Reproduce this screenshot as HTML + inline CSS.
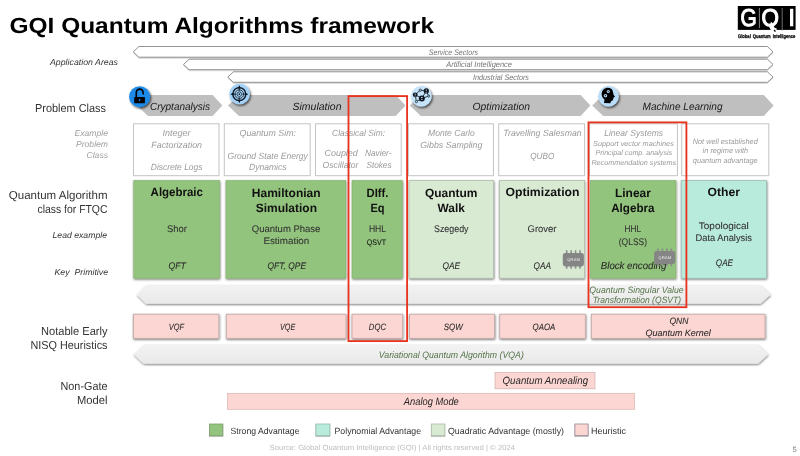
<!DOCTYPE html>
<html><head><meta charset="utf-8"><title>GQI Quantum Algorithms framework</title>
<style>
html,body{margin:0;padding:0;background:#fff;}
body{width:800px;height:456px;overflow:hidden;font-family:"Liberation Sans",sans-serif;}
svg{display:block;font-family:"Liberation Sans",sans-serif;will-change:transform;-webkit-font-smoothing:antialiased;text-rendering:geometricPrecision;filter:blur(0.35px);}
</style></head><body>
<svg width="800" height="456" viewBox="0 0 800 456">
<defs>
<filter id="sh" x="-5%" y="-20%" width="110%" height="150%"><feDropShadow dx="0.4" dy="1" stdDeviation="0.8" flood-color="#000" flood-opacity="0.55"/></filter>
<filter id="sh2" x="-5%" y="-20%" width="110%" height="150%"><feDropShadow dx="0" dy="0.8" stdDeviation="0.6" flood-color="#000" flood-opacity="0.4"/></filter>
<filter id="sh3" x="-5%" y="-30%" width="110%" height="170%"><feDropShadow dx="0" dy="0.5" stdDeviation="0.45" flood-color="#000" flood-opacity="0.3"/></filter>
<filter id="shc" x="-30%" y="-30%" width="170%" height="170%"><feDropShadow dx="1.1" dy="1.4" stdDeviation="1.1" flood-color="#000" flood-opacity="0.7"/></filter>
<linearGradient id="gq" x1="0" y1="0" x2="0" y2="1"><stop offset="0" stop-color="#f2f2f2"/><stop offset="1" stop-color="#e9e9e9"/></linearGradient>
</defs>
<rect x="0" y="0" width="800" height="456" fill="#fff"/>

<text x="9.5" y="33.30" font-size="22" text-anchor="start" font-weight="bold" font-style="normal" fill="#000" textLength="424.5" lengthAdjust="spacingAndGlyphs">GQI Quantum Algorithms framework</text>
<rect x="737.8" y="6" width="57.80000000000007" height="23.9" fill="#000"/>
<text x="740.5" y="26.30" font-size="24.4" text-anchor="start" font-weight="normal" font-style="normal" fill="#fff" textLength="16.2" lengthAdjust="spacingAndGlyphs" stroke="#fff" stroke-width="1.1">G</text>
<text x="761.6" y="26.30" font-size="24.4" text-anchor="start" font-weight="normal" font-style="normal" fill="#fff" textLength="17.5" lengthAdjust="spacingAndGlyphs" stroke="#fff" stroke-width="1.1">Q</text>
<rect x="790" y="8.8" width="3.2999999999999545" height="17.5" fill="#fff"/>
<line x1="759.4" y1="8" x2="759.4" y2="28" stroke="#bbb" stroke-width="0.7"/>
<line x1="782.2" y1="8" x2="782.2" y2="31" stroke="#999" stroke-width="0.7"/>
<line x1="771" y1="22.5" x2="774.4" y2="29.6" stroke="#fff" stroke-width="2"/>
<line x1="774.2" y1="29.9" x2="775.4" y2="31.6" stroke="#111" stroke-width="1.5"/>
<text x="738" y="38.00" font-size="5.2" text-anchor="start" font-weight="bold" font-style="normal" fill="#000" textLength="57.3" lengthAdjust="spacingAndGlyphs" stroke="#000" stroke-width="0.25" word-spacing="1">Global Quantum Intelligence</text>
<polygon points="133.3,51.85 138.9,46.5 767.4,46.5 773,51.85 767.4,57.2 138.9,57.2" fill="#fff" stroke="#939393" stroke-width="1" filter="url(#sh3)"/>
<polygon points="183.5,64.45 189.1,59.2 767.4,59.2 773,64.45 767.4,69.7 189.1,69.7" fill="#fff" stroke="#939393" stroke-width="1" filter="url(#sh3)"/>
<polygon points="227.8,77.05 233.4,71.8 767.4,71.8 773,77.05 767.4,82.3 233.4,82.3" fill="#fff" stroke="#939393" stroke-width="1" filter="url(#sh3)"/>
<text x="428.8" y="55.06" font-size="8" text-anchor="start" font-weight="normal" font-style="italic" fill="#777" textLength="49.2" lengthAdjust="spacingAndGlyphs">Service Sectors</text>
<text x="446.2" y="67.46" font-size="8" text-anchor="start" font-weight="normal" font-style="italic" fill="#777" textLength="65.8" lengthAdjust="spacingAndGlyphs">Artificial Intelligence</text>
<text x="473" y="80.06" font-size="8" text-anchor="start" font-weight="normal" font-style="italic" fill="#777" textLength="56" lengthAdjust="spacingAndGlyphs">Industrial Sectors</text>
<text x="118" y="65.47" font-size="8.6" text-anchor="end" font-weight="normal" font-style="italic" fill="#333" textLength="68" lengthAdjust="spacingAndGlyphs">Application Areas</text>
<polygon points="137,105.45 148,95.0 212.6,95.0 222.4,105.45 212.6,115.9 148,115.9" fill="#bfbfbf"/>
<polygon points="228,105.45 239,95.0 395.7,95.0 405.5,105.45 395.7,115.9 239,115.9" fill="#bfbfbf"/>
<polygon points="409.8,105.45 420.8,95.0 580.6,95.0 590.4,105.45 580.6,115.9 420.8,115.9" fill="#bfbfbf"/>
<polygon points="592.2,105.45 603.2,95.0 763.8000000000001,95.0 773.6,105.45 763.8000000000001,115.9 603.2,115.9" fill="#bfbfbf"/>
<text x="180" y="109.62" font-size="10.5" text-anchor="middle" font-weight="normal" font-style="italic" fill="#1a1a1a" textLength="60" lengthAdjust="spacingAndGlyphs">Cryptanalysis</text>
<text x="317" y="109.62" font-size="10.5" text-anchor="middle" font-weight="normal" font-style="italic" fill="#1a1a1a" textLength="49" lengthAdjust="spacingAndGlyphs">Simulation</text>
<text x="501.3" y="109.62" font-size="10.5" text-anchor="middle" font-weight="normal" font-style="italic" fill="#1a1a1a" textLength="57.5" lengthAdjust="spacingAndGlyphs">Optimization</text>
<text x="682.5" y="109.62" font-size="10.5" text-anchor="middle" font-weight="normal" font-style="italic" fill="#1a1a1a" textLength="80" lengthAdjust="spacingAndGlyphs">Machine Learning</text>
<text x="106" y="111.50" font-size="11.6" text-anchor="end" font-weight="normal" font-style="normal" fill="#333" textLength="71" lengthAdjust="spacingAndGlyphs">Problem Class</text>
<circle cx="139.6" cy="96.7" r="10.5" fill="#1f8ae6" filter="url(#shc)"/>
<circle cx="239.55" cy="94.05" r="10.3" fill="#a3d2f6" filter="url(#shc)"/>
<circle cx="421.35" cy="96.3" r="10.3" fill="#c5e3f9" filter="url(#shc)"/>
<circle cx="608.5" cy="96.3" r="10.3" fill="#b9dcf8" filter="url(#shc)"/>
<g><rect x="134.2" y="97" width="10.7" height="6.3" rx="0.6" fill="#000"/><path d="M136.3 97.2 V92.5 A3.4 3.4 0 0 1 143.1 92.5 V94.4" fill="none" stroke="#000" stroke-width="1.6"/><path d="M139.6 98.9 a0.9 0.9 0 0 1 0.9 0.9 l-0.9 1.6 l-0.9 -1.6 a0.9 0.9 0 0 1 0.9 -0.9z" fill="#1f8ae6"/></g>
<g fill="none" stroke="#0d1520" transform="translate(239.3 94.15)"><circle r="6.5" stroke-width="1.3"/><circle r="4.3" stroke-width="0.8"/><circle r="2.3" stroke-width="0.7"/><circle r="0.8" fill="#0d1520" stroke="none"/><path d="M0 -8.4V-3M0 3V8.4M-8.4 0H-3M3 0H8.4" stroke-width="0.8"/><path d="M0 -8.6L1.5 -5.6H-1.5ZM0 8.6L1.5 5.6H-1.5ZM-8.6 0L-5.6 1.5V-1.5ZM8.6 0L5.6 1.5V-1.5Z" fill="#0d1520" stroke="none"/></g>
<g transform="translate(0 0)"><g stroke="#0d1520" stroke-width="0.8" fill="none"><path d="M415.2 94.8L420.3 90.2L426.3 90.9L428.7 96.1L421.8 98.4L416.4 101.6L415.2 94.8L421.8 98.4L426.3 90.9"/></g><g fill="#0d1520"><circle cx="415.2" cy="94.8" r="2.4"/><circle cx="426.3" cy="90.9" r="2.6"/><circle cx="421.8" cy="98.4" r="3"/></g><g fill="#c5e3f9" stroke="#0d1520" stroke-width="0.7"><circle cx="420.3" cy="90.2" r="1.1"/><circle cx="428.7" cy="96.1" r="1.1"/><circle cx="416.4" cy="101.6" r="1.1"/></g><g fill="#dbeefb"><circle cx="415.2" cy="94.2" r="0.6"/><circle cx="426.3" cy="90.2" r="0.65"/><circle cx="421.8" cy="97.6" r="0.75"/><path d="M414.3 96.2q0.9 -1.3 1.8 0zM425.3 92.4q1 -1.4 2 0zM420.6 100q1.2 -1.6 2.4 0z"/></g></g>
<g><path d="M604.05 103 L604.5 99.4 C602.5 98 601.3 95.8 601.7 93.2 C602.2 89.8 605 87.7 608.2 87.8 C611 87.9 612.9 89.8 613 92.3 L613.5 94.5 L615 96.8 L613.6 97.5 L613.5 98.6 L613 99 L613 100.3 L611.2 100.9 L610.3 103.2 Z" fill="#000"/><circle cx="608.3" cy="91.5" r="1.55" fill="#b5d6ee"/><circle cx="605.5" cy="95.7" r="1.75" fill="#b5d6ee"/><circle cx="608.3" cy="91.5" r="0.6" fill="#123"/><circle cx="605.5" cy="95.7" r="0.65" fill="#123"/></g>
<rect x="133.5" y="123.8" width="85.5" height="51.89999999999999" fill="#fff" stroke="#c4c4c4" stroke-width="1"/>
<rect x="224.3" y="123.8" width="85.89999999999998" height="51.89999999999999" fill="#fff" stroke="#c4c4c4" stroke-width="1"/>
<rect x="315.5" y="123.8" width="85.69999999999999" height="51.89999999999999" fill="#fff" stroke="#c4c4c4" stroke-width="1"/>
<rect x="408.3" y="123.8" width="85.09999999999997" height="51.89999999999999" fill="#fff" stroke="#c4c4c4" stroke-width="1"/>
<rect x="498.7" y="123.8" width="85.90000000000003" height="51.89999999999999" fill="#fff" stroke="#c4c4c4" stroke-width="1"/>
<rect x="589.5" y="123.8" width="87.89999999999998" height="51.89999999999999" fill="#fff" stroke="#c4c4c4" stroke-width="1"/>
<rect x="681.7" y="123.8" width="87.09999999999991" height="51.89999999999999" fill="#fff" stroke="#c4c4c4" stroke-width="1"/>
<text x="162.5" y="136.10" font-size="9" text-anchor="start" font-weight="normal" font-style="italic" fill="#9a9a9a" textLength="28.0" lengthAdjust="spacingAndGlyphs">Integer</text>
<text x="151.3" y="147.60" font-size="9" text-anchor="start" font-weight="normal" font-style="italic" fill="#9a9a9a" textLength="50.7" lengthAdjust="spacingAndGlyphs">Factorization</text>
<text x="150.8" y="170.10" font-size="9" text-anchor="start" font-weight="normal" font-style="italic" fill="#9a9a9a" textLength="51.7" lengthAdjust="spacingAndGlyphs">Discrete Logs</text>
<text x="239.5" y="136.10" font-size="9" text-anchor="start" font-weight="normal" font-style="italic" fill="#9a9a9a" textLength="56.5" lengthAdjust="spacingAndGlyphs">Quantum Sim:</text>
<text x="227.6" y="159.20" font-size="9" text-anchor="start" font-weight="normal" font-style="italic" fill="#9a9a9a" textLength="80.3" lengthAdjust="spacingAndGlyphs">Ground State Energy</text>
<text x="249" y="170.10" font-size="9" text-anchor="start" font-weight="normal" font-style="italic" fill="#9a9a9a" textLength="37.5" lengthAdjust="spacingAndGlyphs">Dynamics</text>
<text x="332.1" y="136.10" font-size="9" text-anchor="start" font-weight="normal" font-style="italic" fill="#9a9a9a" textLength="52.9" lengthAdjust="spacingAndGlyphs">Classical Sim:</text>
<text x="324.5" y="156.41" font-size="9" text-anchor="start" font-weight="normal" font-style="italic" fill="#9a9a9a" textLength="33.3" lengthAdjust="spacingAndGlyphs">Coupled</text>
<text x="322.6" y="167.80" font-size="9" text-anchor="start" font-weight="normal" font-style="italic" fill="#9a9a9a" textLength="35.9" lengthAdjust="spacingAndGlyphs">Oscillator</text>
<text x="364.9" y="156.41" font-size="9" text-anchor="start" font-weight="normal" font-style="italic" fill="#9a9a9a" textLength="26.6" lengthAdjust="spacingAndGlyphs">Navier-</text>
<text x="366.5" y="167.80" font-size="9" text-anchor="start" font-weight="normal" font-style="italic" fill="#9a9a9a" textLength="25.0" lengthAdjust="spacingAndGlyphs">Stokes</text>
<text x="428" y="136.10" font-size="9" text-anchor="start" font-weight="normal" font-style="italic" fill="#9a9a9a" textLength="46.8" lengthAdjust="spacingAndGlyphs">Monte Carlo</text>
<text x="420.2" y="147.60" font-size="9" text-anchor="start" font-weight="normal" font-style="italic" fill="#9a9a9a" textLength="62.2" lengthAdjust="spacingAndGlyphs">Gibbs Sampling</text>
<text x="503.3" y="136.10" font-size="9" text-anchor="start" font-weight="normal" font-style="italic" fill="#9a9a9a" textLength="78.4" lengthAdjust="spacingAndGlyphs">Travelling Salesman</text>
<text x="530.2" y="159.20" font-size="9" text-anchor="start" font-weight="normal" font-style="italic" fill="#9a9a9a" textLength="24.2" lengthAdjust="spacingAndGlyphs">QUBO</text>
<text x="604.2" y="136.10" font-size="9" text-anchor="start" font-weight="normal" font-style="italic" fill="#9a9a9a" textLength="58.9" lengthAdjust="spacingAndGlyphs">Linear Systems</text>
<text x="593.1" y="146.23" font-size="7.2" text-anchor="start" font-weight="normal" font-style="italic" fill="#9a9a9a" textLength="80.7" lengthAdjust="spacingAndGlyphs">Support vector machines</text>
<text x="595.4" y="155.38" font-size="7.2" text-anchor="start" font-weight="normal" font-style="italic" fill="#9a9a9a" textLength="76.8" lengthAdjust="spacingAndGlyphs">Principal comp. analysis</text>
<text x="591.4" y="165.18" font-size="7.2" text-anchor="start" font-weight="normal" font-style="italic" fill="#9a9a9a" textLength="84.8" lengthAdjust="spacingAndGlyphs">Recommendation systems</text>
<text x="692.8" y="144.22" font-size="7.6" text-anchor="start" font-weight="normal" font-style="italic" fill="#9a9a9a" textLength="64.9" lengthAdjust="spacingAndGlyphs">Not well established</text>
<text x="702.6" y="153.42" font-size="7.6" text-anchor="start" font-weight="normal" font-style="italic" fill="#9a9a9a" textLength="45.6" lengthAdjust="spacingAndGlyphs">in regime with</text>
<text x="692.8" y="162.82" font-size="7.6" text-anchor="start" font-weight="normal" font-style="italic" fill="#9a9a9a" textLength="64.9" lengthAdjust="spacingAndGlyphs">quantum advantage</text>
<text x="108" y="136.17" font-size="8.6" text-anchor="end" font-weight="normal" font-style="italic" fill="#a0a0a0">Example</text>
<text x="108" y="147.47" font-size="8.6" text-anchor="end" font-weight="normal" font-style="italic" fill="#a0a0a0">Problem</text>
<text x="108" y="158.47" font-size="8.6" text-anchor="end" font-weight="normal" font-style="italic" fill="#a0a0a0">Class</text>
<rect x="133.8" y="180.6" width="85.69999999999999" height="97.6" fill="#93c47d" stroke="#86b272" stroke-width="0.7" filter="url(#sh)"/>
<rect x="226" y="180.6" width="119.80000000000001" height="97.6" fill="#93c47d" stroke="#86b272" stroke-width="0.7" filter="url(#sh)"/>
<rect x="352.1" y="180.6" width="50.099999999999966" height="97.6" fill="#93c47d" stroke="#86b272" stroke-width="0.7" filter="url(#sh)"/>
<rect x="409" y="180.6" width="84.60000000000002" height="97.6" fill="#d9ead3" stroke="#a9b6a5" stroke-width="0.7" filter="url(#sh)"/>
<rect x="499.5" y="180.6" width="85.20000000000005" height="97.6" fill="#d9ead3" stroke="#a9b6a5" stroke-width="0.7" filter="url(#sh)"/>
<rect x="590.4" y="180.6" width="85.5" height="97.6" fill="#93c47d" stroke="#86b272" stroke-width="0.7" filter="url(#sh)"/>
<rect x="681.2" y="180.6" width="85.39999999999998" height="97.6" fill="#b9ebdc" stroke="#93b9ae" stroke-width="0.7" filter="url(#sh)"/>
<text x="150.6" y="196.14" font-size="12" text-anchor="start" font-weight="bold" font-style="normal" fill="#111" textLength="52.3" lengthAdjust="spacingAndGlyphs">Algebraic</text>
<text x="167.1" y="231.51" font-size="9.6" text-anchor="start" font-weight="normal" font-style="normal" fill="#333" textLength="19.8" lengthAdjust="spacingAndGlyphs" stroke="#333" stroke-width="0.08">Shor</text>
<text x="168.5" y="269.01" font-size="9.6" text-anchor="start" font-weight="normal" font-style="italic" fill="#2a2a2a" textLength="17.3" lengthAdjust="spacingAndGlyphs" stroke="#2a2a2a" stroke-width="0.08">QFT</text>
<text x="251.8" y="196.64" font-size="12" text-anchor="start" font-weight="bold" font-style="normal" fill="#111" textLength="68.8" lengthAdjust="spacingAndGlyphs">Hamiltonian</text>
<text x="255.7" y="211.64" font-size="12" text-anchor="start" font-weight="bold" font-style="normal" fill="#111" textLength="61.3" lengthAdjust="spacingAndGlyphs">Simulation</text>
<text x="251.8" y="231.51" font-size="9.6" text-anchor="start" font-weight="normal" font-style="normal" fill="#333" textLength="68.5" lengthAdjust="spacingAndGlyphs" stroke="#333" stroke-width="0.08">Quantum Phase</text>
<text x="263.4" y="243.61" font-size="9.6" text-anchor="start" font-weight="normal" font-style="normal" fill="#333" textLength="45.9" lengthAdjust="spacingAndGlyphs" stroke="#333" stroke-width="0.08">Estimation</text>
<text x="267.5" y="269.01" font-size="9.6" text-anchor="start" font-weight="normal" font-style="italic" fill="#2a2a2a" textLength="38.5" lengthAdjust="spacingAndGlyphs" stroke="#2a2a2a" stroke-width="0.08">QFT, QPE</text>
<text x="366.5" y="196.64" font-size="12" text-anchor="start" font-weight="bold" font-style="normal" fill="#111" textLength="21.9" lengthAdjust="spacingAndGlyphs">DIff.</text>
<text x="370.4" y="211.64" font-size="12" text-anchor="start" font-weight="bold" font-style="normal" fill="#111" textLength="14.1" lengthAdjust="spacingAndGlyphs">Eq</text>
<text x="368.9" y="231.51" font-size="9.6" text-anchor="start" font-weight="normal" font-style="normal" fill="#333" textLength="17.1" lengthAdjust="spacingAndGlyphs" stroke="#333" stroke-width="0.08">HHL</text>
<text x="366.8" y="245.06" font-size="8" text-anchor="start" font-weight="normal" font-style="normal" fill="#111" textLength="19.2" lengthAdjust="spacingAndGlyphs" stroke="#111" stroke-width="0.08">QSVT</text>
<text x="425" y="196.64" font-size="12" text-anchor="start" font-weight="bold" font-style="normal" fill="#111" textLength="52.5" lengthAdjust="spacingAndGlyphs">Quantum</text>
<text x="437.6" y="211.64" font-size="12" text-anchor="start" font-weight="bold" font-style="normal" fill="#111" textLength="27.3" lengthAdjust="spacingAndGlyphs">Walk</text>
<text x="434" y="232.01" font-size="9.6" text-anchor="start" font-weight="normal" font-style="normal" fill="#333" textLength="34.5" lengthAdjust="spacingAndGlyphs" stroke="#333" stroke-width="0.08">Szegedy</text>
<text x="442.4" y="269.31" font-size="9.6" text-anchor="start" font-weight="normal" font-style="italic" fill="#2a2a2a" textLength="17.7" lengthAdjust="spacingAndGlyphs" stroke="#2a2a2a" stroke-width="0.08">QAE</text>
<text x="505.4" y="196.14" font-size="12" text-anchor="start" font-weight="bold" font-style="normal" fill="#111" textLength="74.1" lengthAdjust="spacingAndGlyphs">Optimization</text>
<text x="527.6" y="232.01" font-size="9.6" text-anchor="start" font-weight="normal" font-style="normal" fill="#333" textLength="28.8" lengthAdjust="spacingAndGlyphs" stroke="#333" stroke-width="0.08">Grover</text>
<text x="533.6" y="269.11" font-size="9.6" text-anchor="start" font-weight="normal" font-style="italic" fill="#2a2a2a" textLength="17.4" lengthAdjust="spacingAndGlyphs" stroke="#2a2a2a" stroke-width="0.08">QAA</text>
<text x="615" y="196.64" font-size="12" text-anchor="start" font-weight="bold" font-style="normal" fill="#111" textLength="35.8" lengthAdjust="spacingAndGlyphs">Linear</text>
<text x="611.2" y="211.64" font-size="12" text-anchor="start" font-weight="bold" font-style="normal" fill="#111" textLength="43.3" lengthAdjust="spacingAndGlyphs">Algebra</text>
<text x="624.5" y="231.61" font-size="9.6" text-anchor="start" font-weight="normal" font-style="normal" fill="#333" textLength="16.8" lengthAdjust="spacingAndGlyphs" stroke="#333" stroke-width="0.08">HHL</text>
<text x="618.8" y="244.51" font-size="9.6" text-anchor="start" font-weight="normal" font-style="normal" fill="#333" textLength="28.2" lengthAdjust="spacingAndGlyphs" stroke="#333" stroke-width="0.08">(QLSS)</text>
<text x="600.8" y="269.02" font-size="10.2" text-anchor="start" font-weight="normal" font-style="italic" fill="#2a2a2a" textLength="65.5" lengthAdjust="spacingAndGlyphs" stroke="#2a2a2a" stroke-width="0.08">Block encoding</text>
<text x="707.5" y="196.14" font-size="12" text-anchor="start" font-weight="bold" font-style="normal" fill="#111" textLength="32.5" lengthAdjust="spacingAndGlyphs">Other</text>
<text x="698.8" y="229.01" font-size="9.6" text-anchor="start" font-weight="normal" font-style="normal" fill="#333" textLength="50.0" lengthAdjust="spacingAndGlyphs" stroke="#333" stroke-width="0.08">Topological</text>
<text x="695.5" y="241.31" font-size="9.6" text-anchor="start" font-weight="normal" font-style="normal" fill="#333" textLength="56.5" lengthAdjust="spacingAndGlyphs" stroke="#333" stroke-width="0.08">Data Analysis</text>
<text x="715.8" y="265.91" font-size="9.6" text-anchor="start" font-weight="normal" font-style="italic" fill="#2a2a2a" textLength="17.2" lengthAdjust="spacingAndGlyphs" stroke="#2a2a2a" stroke-width="0.08">QAE</text>
<text x="107.5" y="199.00" font-size="11.6" text-anchor="end" font-weight="normal" font-style="normal" fill="#333" textLength="98.7" lengthAdjust="spacingAndGlyphs">Quantum Algorithm</text>
<text x="107.5" y="213.00" font-size="11.6" text-anchor="end" font-weight="normal" font-style="normal" fill="#333" textLength="70" lengthAdjust="spacingAndGlyphs">class for FTQC</text>
<text x="107" y="238.47" font-size="8.6" text-anchor="end" font-weight="normal" font-style="italic" fill="#333" textLength="54.5" lengthAdjust="spacingAndGlyphs">Lead example</text>
<text x="108" y="274.97" font-size="8.6" text-anchor="end" font-weight="normal" font-style="italic" fill="#333" textLength="53.5" lengthAdjust="spacingAndGlyphs" xml:space="preserve">Key  Primitive</text>
<rect x="565.90" y="250.30" width="1.6" height="18.40" fill="#8c8c8c"/>
<rect x="570.33" y="250.30" width="1.6" height="18.40" fill="#8c8c8c"/>
<rect x="574.77" y="250.30" width="1.6" height="18.40" fill="#8c8c8c"/>
<rect x="579.20" y="250.30" width="1.6" height="18.40" fill="#8c8c8c"/>
<rect x="562.8" y="252.9" width="21.100000000000023" height="13.50" rx="2.4" fill="#858585"/>
<text x="567.0" y="261.05" font-size="3.9" text-anchor="start" font-weight="bold" font-style="normal" fill="#d4d4d4" textLength="13.0" lengthAdjust="spacingAndGlyphs">QRAM</text>
<rect x="657.22" y="248.40" width="1.6" height="17.90" fill="#8c8c8c"/>
<rect x="661.67" y="248.40" width="1.6" height="17.90" fill="#8c8c8c"/>
<rect x="666.13" y="248.40" width="1.6" height="17.90" fill="#8c8c8c"/>
<rect x="670.58" y="248.40" width="1.6" height="17.90" fill="#8c8c8c"/>
<rect x="654.1" y="251.0" width="21.199999999999932" height="13.00" rx="2.4" fill="#858585"/>
<text x="658.3000000000001" y="258.90" font-size="3.9" text-anchor="start" font-weight="bold" font-style="normal" fill="#d4d4d4" textLength="13.1" lengthAdjust="spacingAndGlyphs">QRAM</text>
<polygon points="137,294.65 146,285.5 760.5,285.5 770.5,294.65 760.5,303.8 146,303.8" fill="url(#gq)" filter="url(#sh)"/>
<text x="589.3" y="292.67" font-size="9.2" text-anchor="start" font-weight="normal" font-style="italic" fill="#56744a" textLength="94.4" lengthAdjust="spacingAndGlyphs">Quantum Singular Value</text>
<text x="592.7" y="302.67" font-size="9.2" text-anchor="start" font-weight="normal" font-style="italic" fill="#56744a" textLength="88.5" lengthAdjust="spacingAndGlyphs">Transformation (QSVT)</text>
<rect x="133.5" y="314.2" width="85.4" height="24.100000000000023" fill="#fcd6d2" stroke="#bfa5a4" stroke-width="0.8" filter="url(#sh)"/>
<rect x="226.3" y="314.2" width="119.69999999999999" height="24.100000000000023" fill="#fcd6d2" stroke="#bfa5a4" stroke-width="0.8" filter="url(#sh)"/>
<rect x="352" y="314.2" width="50.69999999999999" height="24.100000000000023" fill="#fcd6d2" stroke="#bfa5a4" stroke-width="0.8" filter="url(#sh)"/>
<rect x="409.5" y="314.2" width="85.0" height="24.100000000000023" fill="#fcd6d2" stroke="#bfa5a4" stroke-width="0.8" filter="url(#sh)"/>
<rect x="499.8" y="314.2" width="85.49999999999994" height="24.100000000000023" fill="#fcd6d2" stroke="#bfa5a4" stroke-width="0.8" filter="url(#sh)"/>
<rect x="591.3" y="314.2" width="173.70000000000005" height="24.100000000000023" fill="#fcd6d2" stroke="#bfa5a4" stroke-width="0.8" filter="url(#sh)"/>
<text x="168.8" y="330.17" font-size="9.2" text-anchor="start" font-weight="normal" font-style="italic" fill="#2a2a2a" textLength="15.2" lengthAdjust="spacingAndGlyphs" stroke="#2a2a2a" stroke-width="0.08">VQF</text>
<text x="280" y="330.17" font-size="9.2" text-anchor="start" font-weight="normal" font-style="italic" fill="#2a2a2a" textLength="15.2" lengthAdjust="spacingAndGlyphs" stroke="#2a2a2a" stroke-width="0.08">VQE</text>
<text x="368.8" y="330.17" font-size="9.2" text-anchor="start" font-weight="normal" font-style="italic" fill="#2a2a2a" textLength="17.2" lengthAdjust="spacingAndGlyphs" stroke="#2a2a2a" stroke-width="0.08">DQC</text>
<text x="443.7" y="330.17" font-size="9.2" text-anchor="start" font-weight="normal" font-style="italic" fill="#2a2a2a" textLength="19.0" lengthAdjust="spacingAndGlyphs" stroke="#2a2a2a" stroke-width="0.08">SQW</text>
<text x="532.5" y="330.17" font-size="9.2" text-anchor="start" font-weight="normal" font-style="italic" fill="#2a2a2a" textLength="22.8" lengthAdjust="spacingAndGlyphs" stroke="#2a2a2a" stroke-width="0.08">QAOA</text>
<text x="669.4" y="324.47" font-size="9.2" text-anchor="start" font-weight="normal" font-style="italic" fill="#2a2a2a" textLength="19.0" lengthAdjust="spacingAndGlyphs" stroke="#2a2a2a" stroke-width="0.08">QNN</text>
<text x="645.5" y="335.67" font-size="9.2" text-anchor="start" font-weight="normal" font-style="italic" fill="#2a2a2a" textLength="65.3" lengthAdjust="spacingAndGlyphs" stroke="#2a2a2a" stroke-width="0.08">Quantum Kernel</text>
<text x="107.5" y="334.50" font-size="11.6" text-anchor="end" font-weight="normal" font-style="normal" fill="#333" textLength="66.5" lengthAdjust="spacingAndGlyphs">Notable Early</text>
<text x="107.5" y="349.00" font-size="11.6" text-anchor="end" font-weight="normal" font-style="normal" fill="#333" textLength="77" lengthAdjust="spacingAndGlyphs">NISQ Heuristics</text>
<polygon points="133.8,354.4 143.8,345 758,345 768,354.4 758,363.8 143.8,363.8" fill="url(#gq)" filter="url(#sh)"/>
<text x="451.3" y="357.74" font-size="9.4" text-anchor="middle" font-weight="normal" font-style="italic" fill="#56744a" textLength="145" lengthAdjust="spacingAndGlyphs">Variational Quantum Algorithm (VQA)</text>
<rect x="495" y="372.5" width="100" height="16.30000000000001" fill="#fcd6d2" stroke="#d0b0b0" stroke-width="0.7"/>
<text x="545.3" y="384.46" font-size="10.6" text-anchor="middle" font-weight="normal" font-style="italic" fill="#262626" textLength="85.5" lengthAdjust="spacingAndGlyphs">Quantum Annealing</text>
<rect x="227.5" y="393.3" width="407.0" height="16.0" fill="#fcd6d2" stroke="#d8b4b0" stroke-width="0.7"/>
<text x="431.3" y="404.86" font-size="10.6" text-anchor="middle" font-weight="normal" font-style="italic" fill="#262626" textLength="55" lengthAdjust="spacingAndGlyphs">Analog Mode</text>
<text x="107.5" y="389.50" font-size="11.6" text-anchor="end" font-weight="normal" font-style="normal" fill="#333" textLength="47" lengthAdjust="spacingAndGlyphs">Non-Gate</text>
<text x="107.5" y="404.00" font-size="11.6" text-anchor="end" font-weight="normal" font-style="normal" fill="#333" textLength="30.5" lengthAdjust="spacingAndGlyphs">Model</text>
<rect x="209.6" y="424" width="13.300000000000011" height="11.699999999999989" fill="#93c47d" stroke="#7a9a6c" stroke-width="0.7" filter="url(#sh2)"/>
<rect x="315.9" y="424" width="14.0" height="11.699999999999989" fill="#b9ebdc" stroke="#8fb5a8" stroke-width="0.7" filter="url(#sh2)"/>
<rect x="431.3" y="424" width="13.599999999999966" height="11.699999999999989" fill="#d9ead3" stroke="#a7b5a2" stroke-width="0.7" filter="url(#sh2)"/>
<rect x="574.9" y="424" width="13.200000000000045" height="11.699999999999989" fill="#fcd6d2" stroke="#8a8090" stroke-width="0.7" filter="url(#sh2)"/>
<text x="230.5" y="433.61" font-size="9" text-anchor="start" font-weight="normal" font-style="normal" fill="#333" textLength="69" lengthAdjust="spacingAndGlyphs">Strong Advantage</text>
<text x="334.5" y="433.61" font-size="9" text-anchor="start" font-weight="normal" font-style="normal" fill="#333" textLength="86.5" lengthAdjust="spacingAndGlyphs">Polynomial Advantage</text>
<text x="448" y="433.61" font-size="9" text-anchor="start" font-weight="normal" font-style="normal" fill="#333" textLength="116" lengthAdjust="spacingAndGlyphs">Quadratic Advantage (mostly)</text>
<text x="591" y="433.61" font-size="9" text-anchor="start" font-weight="normal" font-style="normal" fill="#333" textLength="35" lengthAdjust="spacingAndGlyphs">Heuristic</text>
<text x="269.5" y="450.15" font-size="7.4" text-anchor="start" font-weight="normal" font-style="normal" fill="#bdbdbd" textLength="245.5" lengthAdjust="spacingAndGlyphs">Source: Global Quantum Intelligence (GQI) | All rights reserved | © 2024</text>
<text x="794.5" y="451.59" font-size="7.5" text-anchor="middle" font-weight="normal" font-style="normal" fill="#777">5</text>
<rect x="348.5" y="96.1" width="58.6" height="245" fill="none" stroke="#e8341f" stroke-width="1.85"/>
<rect x="588.5" y="122.4" width="97.9" height="184.8" fill="none" stroke="#e8341f" stroke-width="1.85"/>
</svg></body></html>
